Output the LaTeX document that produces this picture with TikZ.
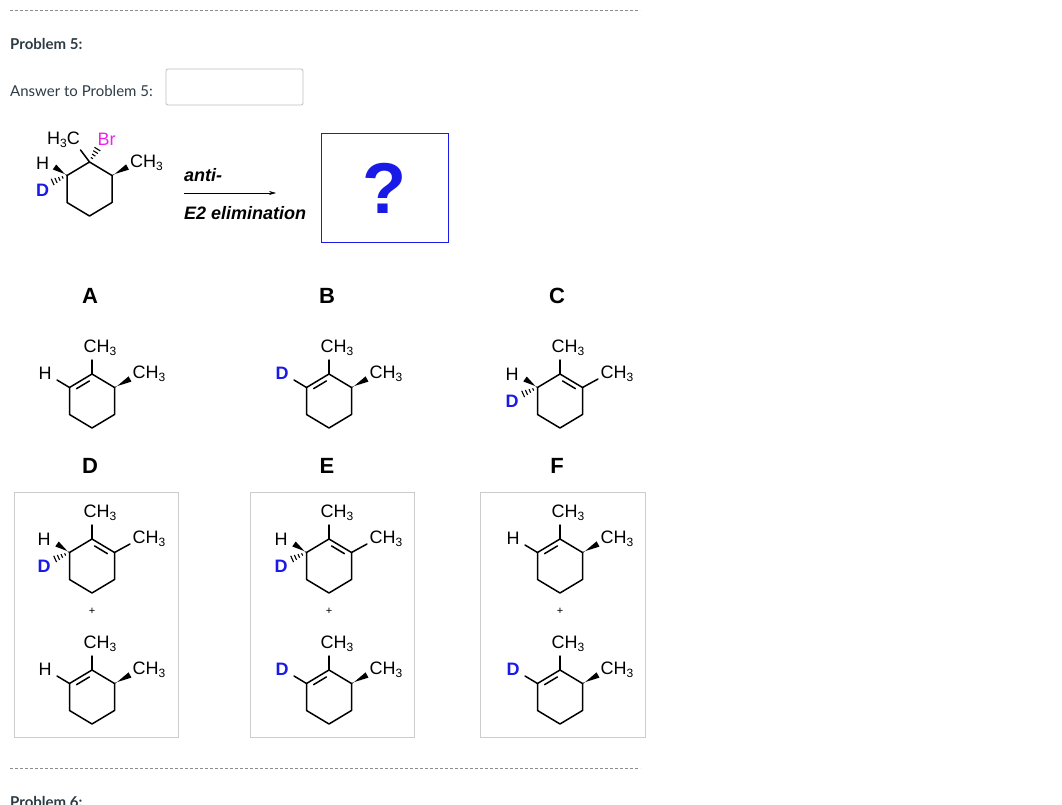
\documentclass[tikz,border=0pt]{standalone}
\usepackage{fontspec}
\setmainfont{Lato}
\newfontfamily\chem{Liberation Sans}
\usetikzlibrary{calc,arrows.meta}
\definecolor{ink}{HTML}{2D3B45}
\definecolor{dblue}{HTML}{1A1AE6}
\definecolor{mag}{HTML}{F020F0}
\newcommand\tri{\raisebox{-0.35ex}{\fontsize{12}{12}\selectfont 3}}
\tikzset{
 bond/.style={line width=1.5pt,line cap=round,line join=round},
 ch/.style={font=\chem\fontsize{18}{18}\selectfont,inner sep=0pt},
 lab/.style={font=\chem\bfseries\fontsize{22}{22}\selectfont,inner sep=0pt},
 frame/.style={draw=black!20,line width=0.8pt}
}
\newcommand\wdg[2]{\fill ($#1!0.6pt!90:#2$) -- ($#2!3pt!90:#1$) -- ($#2!3pt!-90:#1$) -- ($#1!0.6pt!-90:#2$) -- cycle;}
\newcommand\hsh[2]{\foreach \t in {0.3,0.53,0.76,0.99}{\draw[line width=1.1pt] ($#1!\t!#2!{\t*3.2pt+0.3pt}!90:#2$) -- ($#1!\t!#2!{\t*3.2pt+0.3pt}!-90:#2$);}}
\newcommand\hexonly{%
 \coordinate (T) at (0,-27); \coordinate (UR) at (22.5,-13.5); \coordinate (LR) at (22.5,13.5);
 \coordinate (Bo) at (0,27); \coordinate (LL) at (-22.5,13.5); \coordinate (UL) at (-22.5,-13.5);
 \draw[bond] (T)--(UR)--(LR)--(Bo)--(LL)--(UL)--cycle;}
\newcommand\hexbase{\hexonly
 \draw[bond] (T)--(0,-41);
 \node[ch] at (8,-53) {CH\tri};}
\newcommand\inner[2]{\draw[bond,shorten <=3pt,shorten >=3pt] ($(0,0)!0.8!#1$) -- ($(0,0)!0.8!#2$);}
\newcommand\molA[4]{\begin{scope}[shift={(#1,#2)}]\hexbase
 \inner{(UL)}{(T)}
 \draw[bond] (UL)--(-35,-21);
 \node[ch,text=#3] at (-47,-28) {#4};
 \wdg{(UR)}{(38,-22)}
 \node[ch] at (57,-27) {CH\tri};
\end{scope}}
\newcommand\molC[2]{\begin{scope}[shift={(#1,#2)}]\hexbase
 \inner{(T)}{(UR)}
 \wdg{(UL)}{(-35,-22)}
 \hsh{(UL)}{(-37,-7)}
 \node[ch] at (-48,-27) {H};
 \node[ch,text=dblue] at (-48,0) {\bfseries D};
 \draw[bond] (UR)--(38,-22);
 \node[ch] at (57,-27) {CH\tri};
\end{scope}}
\begin{document}
\begin{tikzpicture}[x=1pt,y=-1pt]
\useasboundingbox (0,0) rectangle (1062,805);
\begin{scope}
\clip (0,0) rectangle (1062,805);
\draw[black!45,dash pattern=on 3pt off 2pt,line width=0.6pt] (10,10)--(640,10);
\draw[black!45,dash pattern=on 3pt off 2pt,line width=0.6pt] (10,768)--(640,768);
\node[anchor=base west,inner sep=0pt,text=ink,font=\bfseries\fontsize{15}{15}\selectfont] (p5) at (10,50) {Problem 5:};
\node[anchor=base west,inner sep=0pt,text=ink,font=\fontsize{15}{15}\selectfont] (ans) at (10,97) {Answer to Problem 5:};
\draw[black!25,rounded corners=2pt,line width=0.8pt] (166,69) rectangle (303,105);
\node[anchor=base west,inner sep=0pt,text=ink,font=\bfseries\fontsize{15}{15}\selectfont] (p6) at (10,807) {Problem 6:};
\end{scope}
% reactant
\begin{scope}[shift={(89.5,189)}]
 \hexonly
 \draw[bond] (T)--(-9,-39);
 \hsh{(T)}{(8,-40)}
 \node[ch] at (-26,-49) {H\tri C};
 \node[ch,text=mag] at (17,-50) {Br};
 \wdg{(UR)}{(38,-22)}
 \node[ch] at (57,-26) {CH\tri};
 \wdg{(UL)}{(-35,-22)}
 \hsh{(UL)}{(-37,-7)}
 \node[ch] at (-47,-26) {H};
 \node[ch,text=dblue] at (-47,1) {\bfseries D};
\end{scope}
\draw[-{Stealth[length=7pt,width=4pt]},line width=0.6pt] (184,193) -- (276,193);
\node[ch,anchor=west,font=\chem\bfseries\itshape\fontsize{18}{18}\selectfont] (anti) at (184,175) {anti-};
\node[ch,anchor=west,font=\chem\bfseries\itshape\fontsize{18}{18}\selectfont] (e2) at (184,213) {E2 elimination};
\draw[dblue,line width=0.9pt] (321,133) rectangle (448,242);
\node[ch,text=dblue,font=\chem\bfseries\fontsize{72}{72}\selectfont] (q) at (384,188) {?};
\node[lab] (la) at (90,296) {A};
\node[lab] (lb) at (327,296) {B};
\node[lab] (lc) at (557,296) {C};
\node[lab] (ld) at (90,466) {D};
\node[lab] (le) at (327,466) {E};
\node[lab] (lf) at (557,466) {F};
\molA{92}{401}{black}{H}
\molA{329}{401}{dblue}{\bfseries D}
\molC{560}{401}
\draw[frame] (14,492) rectangle (178,737);
\draw[frame] (250,492) rectangle (414,737);
\draw[frame] (480,492) rectangle (645,737);
\molC{92}{566}
\molC{329}{566}
\molA{560}{566}{black}{H}
\molA{92}{697}{black}{H}
\molA{329}{697}{dblue}{\bfseries D}
\molA{560}{697}{dblue}{\bfseries D}
\foreach \x in {92,329,560}{\node[ch,font=\chem\fontsize{11}{11}\selectfont] at (\x,611) {+};}
\end{tikzpicture}
\end{document}
